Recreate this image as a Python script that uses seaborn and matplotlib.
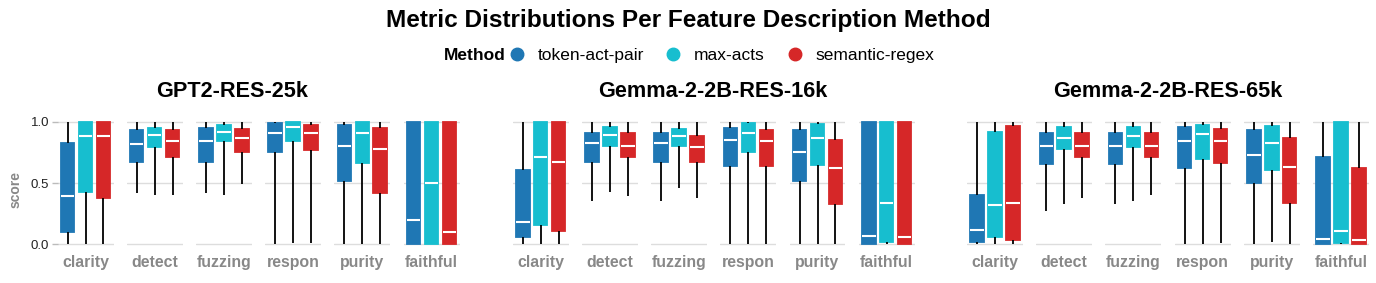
import matplotlib.pyplot as plt
import numpy as np
import pandas as pd
import seaborn as sns
from matplotlib.lines import Line2D

models = ['GPT2-RES-25k', 'Gemma-2-2B-RES-16k', 'Gemma-2-2B-RES-65k']
metrics = ['clarity', 'detect', 'fuzzing', 'respon', 'purity', 'faithful']
methods = ['token-act-pair', 'max-acts', 'semantic-regex']
colors = ['#1f77b4', '#17becf', '#d62728']

# five-number summaries: [min, q1, median, q3, max], one per metric
gpt2_token = [[0, .10, .39, .83, 1], [.42, .67, .82, .93, 1], [.42, .67, .845, .95, 1],
              [0, .75, .91, .99, 1], [0, .52, .80, .97, 1], [0, 0, .20, 1, 1]]
gpt2_maxacts = [[0, .43, .88, 1, 1], [.40, .79, .89, .95, 1], [.40, .84, .92, .97, 1],
                [.01, .84, .96, 1, 1], [0, .66, .91, 1, 1], [0, 0, .50, 1, 1]]
gpt2_regex = [[0, .38, .88, 1, 1], [.40, .71, .84, .93, 1], [.49, .755, .87, .94, 1],
              [.01, .77, .91, .97, 1], [0, .42, .78, .95, 1], [0, 0, .10, 1, 1]]

g16_token = [[0, .06, .185, .61, 1], [.35, .67, .83, .905, 1], [.35, .67, .83, .905, 1],
             [0, .64, .85, .95, 1], [0, .52, .75, .93, 1], [0, 0, .07, 1, 1]]
g16_maxacts = [[0, .16, .715, 1, 1], [.43, .80, .89, .955, 1], [.46, .80, .88, .94, 1],
               [0, .755, .91, .99, 1], [0, .65, .865, .98, 1], [0, .02, .34, 1, 1]]
g16_regex = [[0, .11, .67, 1, 1], [.39, .71, .80, .905, 1], [.38, .67, .79, .88, 1],
             [0, .64, .84, .935, 1], [0, .33, .62, .85, 1], [0, 0, .06, 1, 1]]

g65_token = [[0, .015, .12, .40, 1], [.27, .655, .80, .905, 1], [.33, .655, .80, .905, 1],
             [0, .625, .84, .955, 1], [0, .50, .73, .93, 1], [0, 0, .04, .715, 1]]
g65_maxacts = [[0, .06, .32, .92, 1], [.33, .78, .87, .955, 1], [.35, .79, .88, .955, 1],
               [0, .695, .90, .97, 1], [.015, .605, .83, .965, 1], [0, .01, .11, 1, 1]]
g65_regex = [[0, .035, .34, .965, 1], [.38, .71, .80, .905, 1], [.40, .71, .80, .905, 1],
             [.01, .66, .84, .94, 1], [0, .335, .63, .87, 1], [0, 0, .035, .62, 1]]

summaries = {
    'GPT2-RES-25k': [gpt2_token, gpt2_maxacts, gpt2_regex],
    'Gemma-2-2B-RES-16k': [g16_token, g16_maxacts, g16_regex],
    'Gemma-2-2B-RES-65k': [g65_token, g65_maxacts, g65_regex],
}

# five points per box -> quartiles land exactly on the summary values
rows = []
for model in models:
    for method, stats in zip(methods, summaries[model]):
        for metric, five in zip(metrics, stats):
            for v in five:
                rows.append((model, metric, method, v))
df = pd.DataFrame(rows, columns=['model', 'metric', 'method', 'score'])

sns.set_style('white')
plt.rcParams['font.family'] = ['Liberation Sans', 'DejaVu Sans']
plt.rcParams['text.color'] = 'black'

W, H = 1376, 283
fig = plt.figure(figsize=(W / 100, H / 100), dpi=100)

first_center = [85.5, 540.7, 995.0]
period = 69.2
colw = 56
zero_px, ppu, pad = 244.3, 122.6, 0.012
ax_bottom = zero_px + pad * ppu
ax_h = (1 + 2 * pad) * ppu

for p, model in enumerate(models):
    for k, metric in enumerate(metrics):
        cx = first_center[p] + k * period
        ax = fig.add_axes([(cx - colw / 2) / W, (H - ax_bottom) / H, colw / W, ax_h / H])
        sub = df[(df.model == model) & (df.metric == metric)]
        sns.boxplot(data=sub, x='metric', y='score', hue='method', hue_order=methods,
                    palette=colors, saturation=1, width=0.96, gap=0.25, whis=(0, 100),
                    showcaps=False, linecolor='black', linewidth=1.3,
                    medianprops=dict(color='white', linewidth=1.5),
                    legend=False, ax=ax)
        for patch in ax.patches:
            patch.set_edgecolor(patch.get_facecolor())
        ax.set_ylim(-pad, 1 + pad)
        ax.set_xlim(-0.5, 0.5)
        ax.set_yticks([0, 0.5, 1.0])
        ax.yaxis.grid(True, color='#dddddd', linewidth=1)
        ax.set_axisbelow(True)
        sns.despine(ax=ax, left=True, bottom=True)
        ax.set_xlabel('')
        ax.set_ylabel('')
        ax.set_xticks([0])
        ax.set_xticklabels([metric], fontsize=11.4, fontweight='bold', color='#888888')
        ax.tick_params(axis='x', length=0, pad=7)
        if p == 0 and k == 0:
            ax.set_yticklabels(['0.0', '0.5', '1.0'])
            ax.tick_params(axis='y', length=4, color='#bbbbbb', width=1, pad=2,
                           labelsize=9.5, labelcolor='#222222', left=True)
        else:
            ax.tick_params(axis='y', length=0, labelleft=False)

fig.text(16 / W, 1 - 190 / H, 'score', rotation=90, ha='center', va='center',
         fontsize=10, fontweight='bold', color='#888888')

fig.text(688 / W, 1 - 20 / H, 'Metric Distributions Per Feature Description Method',
         ha='center', va='center', fontsize=17.6, fontweight='bold')

for x, model in zip([232.5, 713, 1168], models):
    fig.text(x / W, 1 - 91.5 / H, model, ha='center', va='center',
             fontsize=15.6, fontweight='bold')

fig.text(506 / W, 1 - 55 / H, 'Method', ha='right', va='center',
         fontsize=12.5, fontweight='bold')
handles = [Line2D([], [], marker='o', linestyle='', markersize=9, color=c) for c in colors]
fig.legend(handles, methods, loc='center left', bbox_to_anchor=(508 / W, 1 - 55 / H),
           ncol=3, frameon=False, fontsize=12.5, handlelength=1, handletextpad=0.7,
           columnspacing=1.2, borderpad=0, borderaxespad=0)

fig.savefig('out.png', dpi=100)
